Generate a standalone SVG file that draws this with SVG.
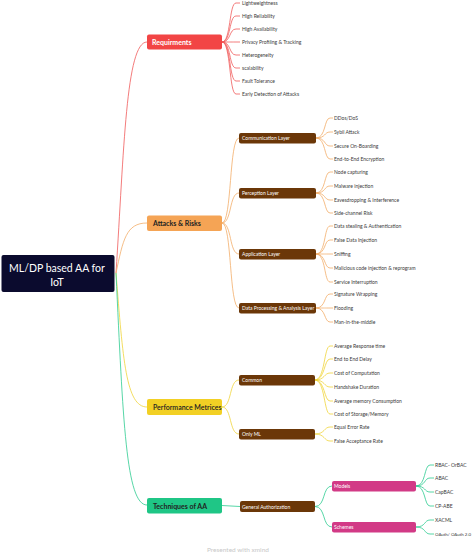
<svg xmlns="http://www.w3.org/2000/svg" width="474" height="553" viewBox="0 0 474 553">
<style>
text{font-family:Lato,"Open Sans","Liberation Sans",sans-serif;dominant-baseline:central}
.leaf{font-size:5px;fill:#3a3a3a}
.main{font-size:7px;font-weight:bold}
.sub{font-size:5px;fill:#fff}
.c{fill:none;stroke-width:0.8}
.r{stroke:#f05a5a}.o{stroke:#f2ad6a}.y{stroke:#f0d43a}.g{stroke:#2ccb90}
.br{fill:#6b3708}.mg{fill:#d23a86}
</style>
<rect width="474" height="553" fill="#fff"/>
<g id="connectors">
<path class="c r" d="M116 273C124 150 126 42 147 42"/>
<path class="c o" d="M116 273C123 240 126 223 147 223"/>
<path class="c y" d="M116 273C123 360 126 407 147 407"/>
<path class="c g" d="M116 273C123 420 126 505 147 505"/>
<g class="c r">
<path d="M222 42C231 42 229 3 236 3H240"/><path d="M222 42C231 42 229 16 236 16H240"/><path d="M222 42C231 42 229 29 236 29H240"/><path d="M222 42C231 42 229 42 236 42H240"/><path d="M222 42C231 42 229 55 236 55H240"/><path d="M222 42C231 42 229 68 236 68H240"/><path d="M222 42C231 42 229 81 236 81H240"/><path d="M222 42C231 42 229 94 236 94H240"/>
</g>
<g class="c o">
<path d="M222 223C232 223 229 138 239 138"/><path d="M222 223C232 223 229 193 239 193"/><path d="M222 223C232 223 229 254 239 254"/><path d="M222 223C232 223 229 308 239 308"/>
<path d="M316 138C326 138 324 118 330 118H333"/><path d="M316 138C326 138 324 132 330 132H333"/><path d="M316 138C326 138 324 146 330 146H333"/><path d="M316 138C326 138 324 159 330 159H333"/>
<path d="M316 193C326 193 324 172 330 172H333"/><path d="M316 193C326 193 324 186 330 186H333"/><path d="M316 193C326 193 324 200 330 200H333"/><path d="M316 193C326 193 324 213 330 213H333"/>
<path d="M316 254C326 254 324 226 330 226H333"/><path d="M316 254C326 254 324 240 330 240H333"/><path d="M316 254C326 254 324 254 330 254H333"/><path d="M316 254C326 254 324 268 330 268H333"/><path d="M316 254C326 254 324 282 330 282H333"/>
<path d="M316 308C326 308 324 294 330 294H333"/><path d="M316 308C326 308 324 308 330 308H333"/><path d="M316 308C326 308 324 322 330 322H333"/>
</g>
<g class="c y">
<path d="M222 407C232 407 229 380 239 380"/><path d="M222 407C232 407 229 434 239 434"/>
<path d="M315 380C325 380 324 346 330 346H333"/><path d="M315 380C325 380 324 359 330 359H333"/><path d="M315 380C325 380 324 373 330 373H333"/><path d="M315 380C325 380 324 387 330 387H333"/><path d="M315 380C325 380 324 401 330 401H333"/><path d="M315 380C325 380 324 414 330 414H333"/>
<path d="M315 434C325 434 324 427 330 427H333"/><path d="M315 434C325 434 324 441 330 441H333"/>
</g>
<g class="c g">
<path d="M222 505.5L240 506.5"/>
<path d="M315 506.5C326 506.5 322 486 332 486"/><path d="M315 506.5C326 506.5 322 527 332 527"/>
<path d="M416 486C426 486 424 465 430 465H434"/><path d="M416 486C426 486 424 478 430 478H434"/><path d="M416 486C426 486 424 492 430 492H434"/><path d="M416 486C426 486 424 506 430 506H434"/>
<path d="M416 527C426 527 424 520 430 520H434"/><path d="M416 527C426 527 424 534 430 534H434"/>
</g>
</g>
<g id="root">
<rect x="1.5" y="255" width="113" height="37" rx="2" fill="#0b0b2e"/>
<text x="57" y="268" font-size="10.5" fill="#fff" text-anchor="middle">ML/DP based AA for</text>
<text x="57" y="282" font-size="10.5" fill="#fff" text-anchor="middle">IoT</text>
</g>
<g id="requirements">
<rect x="147" y="34.5" width="75" height="15" rx="2" fill="#f24545"/>
<text class="main" x="152" y="42" fill="#fff">Requirments</text>
<text class="leaf" x="242" y="3">Lightweightness</text>
<text class="leaf" x="242" y="16">High Reliability</text>
<text class="leaf" x="242" y="29">High Availability</text>
<text class="leaf" x="242" y="42">Privacy Profiling &amp; Tracking</text>
<text class="leaf" x="242" y="55">Heterogeneity</text>
<text class="leaf" x="242" y="68">scalability</text>
<text class="leaf" x="242" y="81">Fault Tolerance</text>
<text class="leaf" x="242" y="94">Early Detection of Attacks</text>
</g>
<g id="attacks">
<rect x="147" y="215.5" width="75" height="15.5" rx="2" fill="#f5a455"/>
<text class="main" x="153" y="223.3" fill="#222">Attacks &amp; Risks</text>
</g>
<g id="communication">
<rect class="br" x="239" y="133" width="77" height="10.5" rx="2"/>
<text class="sub" x="242" y="138.3">Communication Layer</text>
<text class="leaf" x="334" y="118">DDos/DoS</text>
<text class="leaf" x="334" y="132">Sybil Attack</text>
<text class="leaf" x="334" y="146">Secure On-Boarding</text>
<text class="leaf" x="334" y="159">End-to-End Encryption</text>
</g>
<g id="perception">
<rect class="br" x="239" y="188" width="77" height="10.5" rx="2"/>
<text class="sub" x="242" y="193.3">Perception Layer</text>
<text class="leaf" x="334" y="172">Node capturing</text>
<text class="leaf" x="334" y="186">Malware injection</text>
<text class="leaf" x="334" y="200">Eavesdropping &amp; Interference</text>
<text class="leaf" x="334" y="213">Side-channel Risk</text>
</g>
<g id="application">
<rect class="br" x="239" y="249" width="77" height="10.5" rx="2"/>
<text class="sub" x="242" y="254.3">Application Layer</text>
<text class="leaf" x="334" y="226">Data stealing &amp; Authentication</text>
<text class="leaf" x="334" y="240">False Data Injection</text>
<text class="leaf" x="334" y="254">Sniffing</text>
<text class="leaf" x="334" y="268">Malicious code injection &amp; reprogram</text>
<text class="leaf" x="334" y="282">Service Interruption</text>
</g>
<g id="dataprocessing">
<rect class="br" x="239" y="303" width="77" height="10.5" rx="2"/>
<text class="sub" x="242" y="308.3">Data Processing &amp; Analysis Layer</text>
<text class="leaf" x="334" y="294">Signature Wrapping</text>
<text class="leaf" x="334" y="308">Flooding</text>
<text class="leaf" x="334" y="322">Man-in-the-middle</text>
</g>
<g id="performance">
<rect x="147" y="399" width="75" height="16" rx="2" fill="#f2d024"/>
<text class="main" x="153" y="407.3" fill="#222" style="font-weight:600">Performance Metrices</text>
</g>
<g id="common">
<rect class="br" x="239" y="375" width="76" height="10.5" rx="2"/>
<text class="sub" x="242" y="380.3">Common</text>
<text class="leaf" x="334" y="346">Average Response time</text>
<text class="leaf" x="334" y="359">End to End Delay</text>
<text class="leaf" x="334" y="373">Cost of Computation</text>
<text class="leaf" x="334" y="387">Handshake Duration</text>
<text class="leaf" x="334" y="401">Average memory Consumption</text>
<text class="leaf" x="334" y="414">Cost of Storage/Memory</text>
</g>
<g id="onlyml">
<rect class="br" x="239" y="429" width="76" height="10.5" rx="2"/>
<text class="sub" x="242" y="434.3">Only ML</text>
<text class="leaf" x="334" y="427">Equal Error Rate</text>
<text class="leaf" x="334" y="441">False Acceptance Rate</text>
</g>
<g id="techniques">
<rect x="147" y="498" width="75" height="15.5" rx="2" fill="#1fc686"/>
<text class="main" x="153" y="505.8" fill="#222">Techniques of AA</text>
</g>
<g id="generalauth">
<rect class="br" x="240" y="501" width="75" height="11" rx="2"/>
<text class="sub" x="242" y="506.5">General Authorization</text>
</g>
<g id="models">
<rect class="mg" x="332" y="481" width="84" height="10.5" rx="2"/>
<text class="sub" x="334" y="486.3">Models</text>
<text class="leaf" x="435" y="465">RBAC- OrBAC</text>
<text class="leaf" x="435" y="478">ABAC</text>
<text class="leaf" x="435" y="492">CapBAC</text>
<text class="leaf" x="435" y="506">CP-ABE</text>
</g>
<g id="schemes">
<rect class="mg" x="332" y="522" width="84" height="10.5" rx="2"/>
<text class="sub" x="334" y="527.3">Schemes</text>
<text class="leaf" x="435" y="520">XACML</text>
<text class="leaf" x="435" y="534" style="font-size:4.4px">OAuth/ OAuth 2.0</text>
</g>
<text x="207" y="549" font-size="6.5" fill="#c8c8c8">Presented with xmind</text>
</svg>
